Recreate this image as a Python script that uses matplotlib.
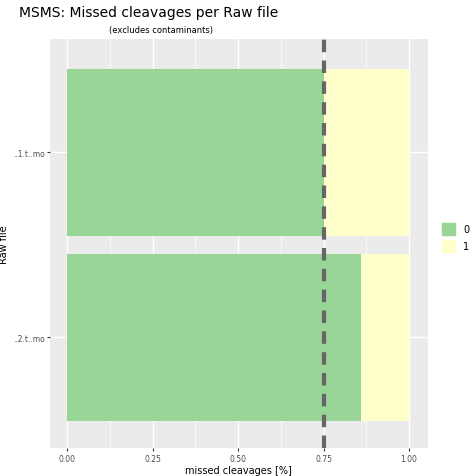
import matplotlib
matplotlib.use("Agg")
import matplotlib.pyplot as plt
from matplotlib.patches import Patch

files = ["..2.t..mo", "..1.t..mo"]
cleav0 = [0.86, 0.75]
cleav1 = [0.14, 0.25]
threshold = 0.75
xticks = [0.00, 0.25, 0.50, 0.75, 1.00]

fig = plt.figure(figsize=(4.74, 4.77), dpi=100)
ax = fig.add_axes([0.1055, 0.0587, 0.797, 0.857])
ax.set_facecolor("#ebebeb")
green, yellow = "#98d597", "#ffffcc"
y = range(len(files))
ax.barh(y, cleav0, height=0.9, color=green, zorder=2)
ax.barh(y, cleav1, left=cleav0, height=0.9, color=yellow, zorder=2)
ax.axvline(threshold, color="#666666", lw=3, ls=(0, (3, 2)), zorder=3)
ax.set_xlim(-0.05, 1.055)
ax.set_ylim(-0.597, 1.61)
ax.set_xticks(xticks)
ax.set_xticklabels([f"{v:.2f}" for v in xticks], fontsize=5.5, color="#4d4d4d")
ax.set_xticks([0.125, 0.375, 0.625, 0.875], minor=True)
ax.set_yticks(list(y))
ax.set_yticklabels(files, fontsize=5.5, color="#4d4d4d")
ax.grid(True, which="major", color="white", lw=1, zorder=0)
ax.grid(True, which="minor", axis="x", color="white", lw=0.5, zorder=0)
ax.tick_params(which="both", length=2, color="#333333", pad=2)
ax.tick_params(which="minor", length=0)
for s in ax.spines.values():
    s.set_visible(False)
ax.set_xlabel("missed cleavages [%]", fontsize=7, labelpad=2)
ax.set_ylabel("Raw file", fontsize=7, labelpad=3)
fig.text(0.04, 0.965, "MSMS: Missed cleavages per Raw file", fontsize=10)
fig.text(0.23, 0.93, "(excludes contaminants)", fontsize=6)
fig.legend(handles=[Patch(color=green, label="0"), Patch(color=yellow, label="1")],
           loc="center left", bbox_to_anchor=(0.915, 0.5), frameon=False,
           fontsize=7, handlelength=1.3, handleheight=1.6)
fig.savefig("out.png", dpi=100)
